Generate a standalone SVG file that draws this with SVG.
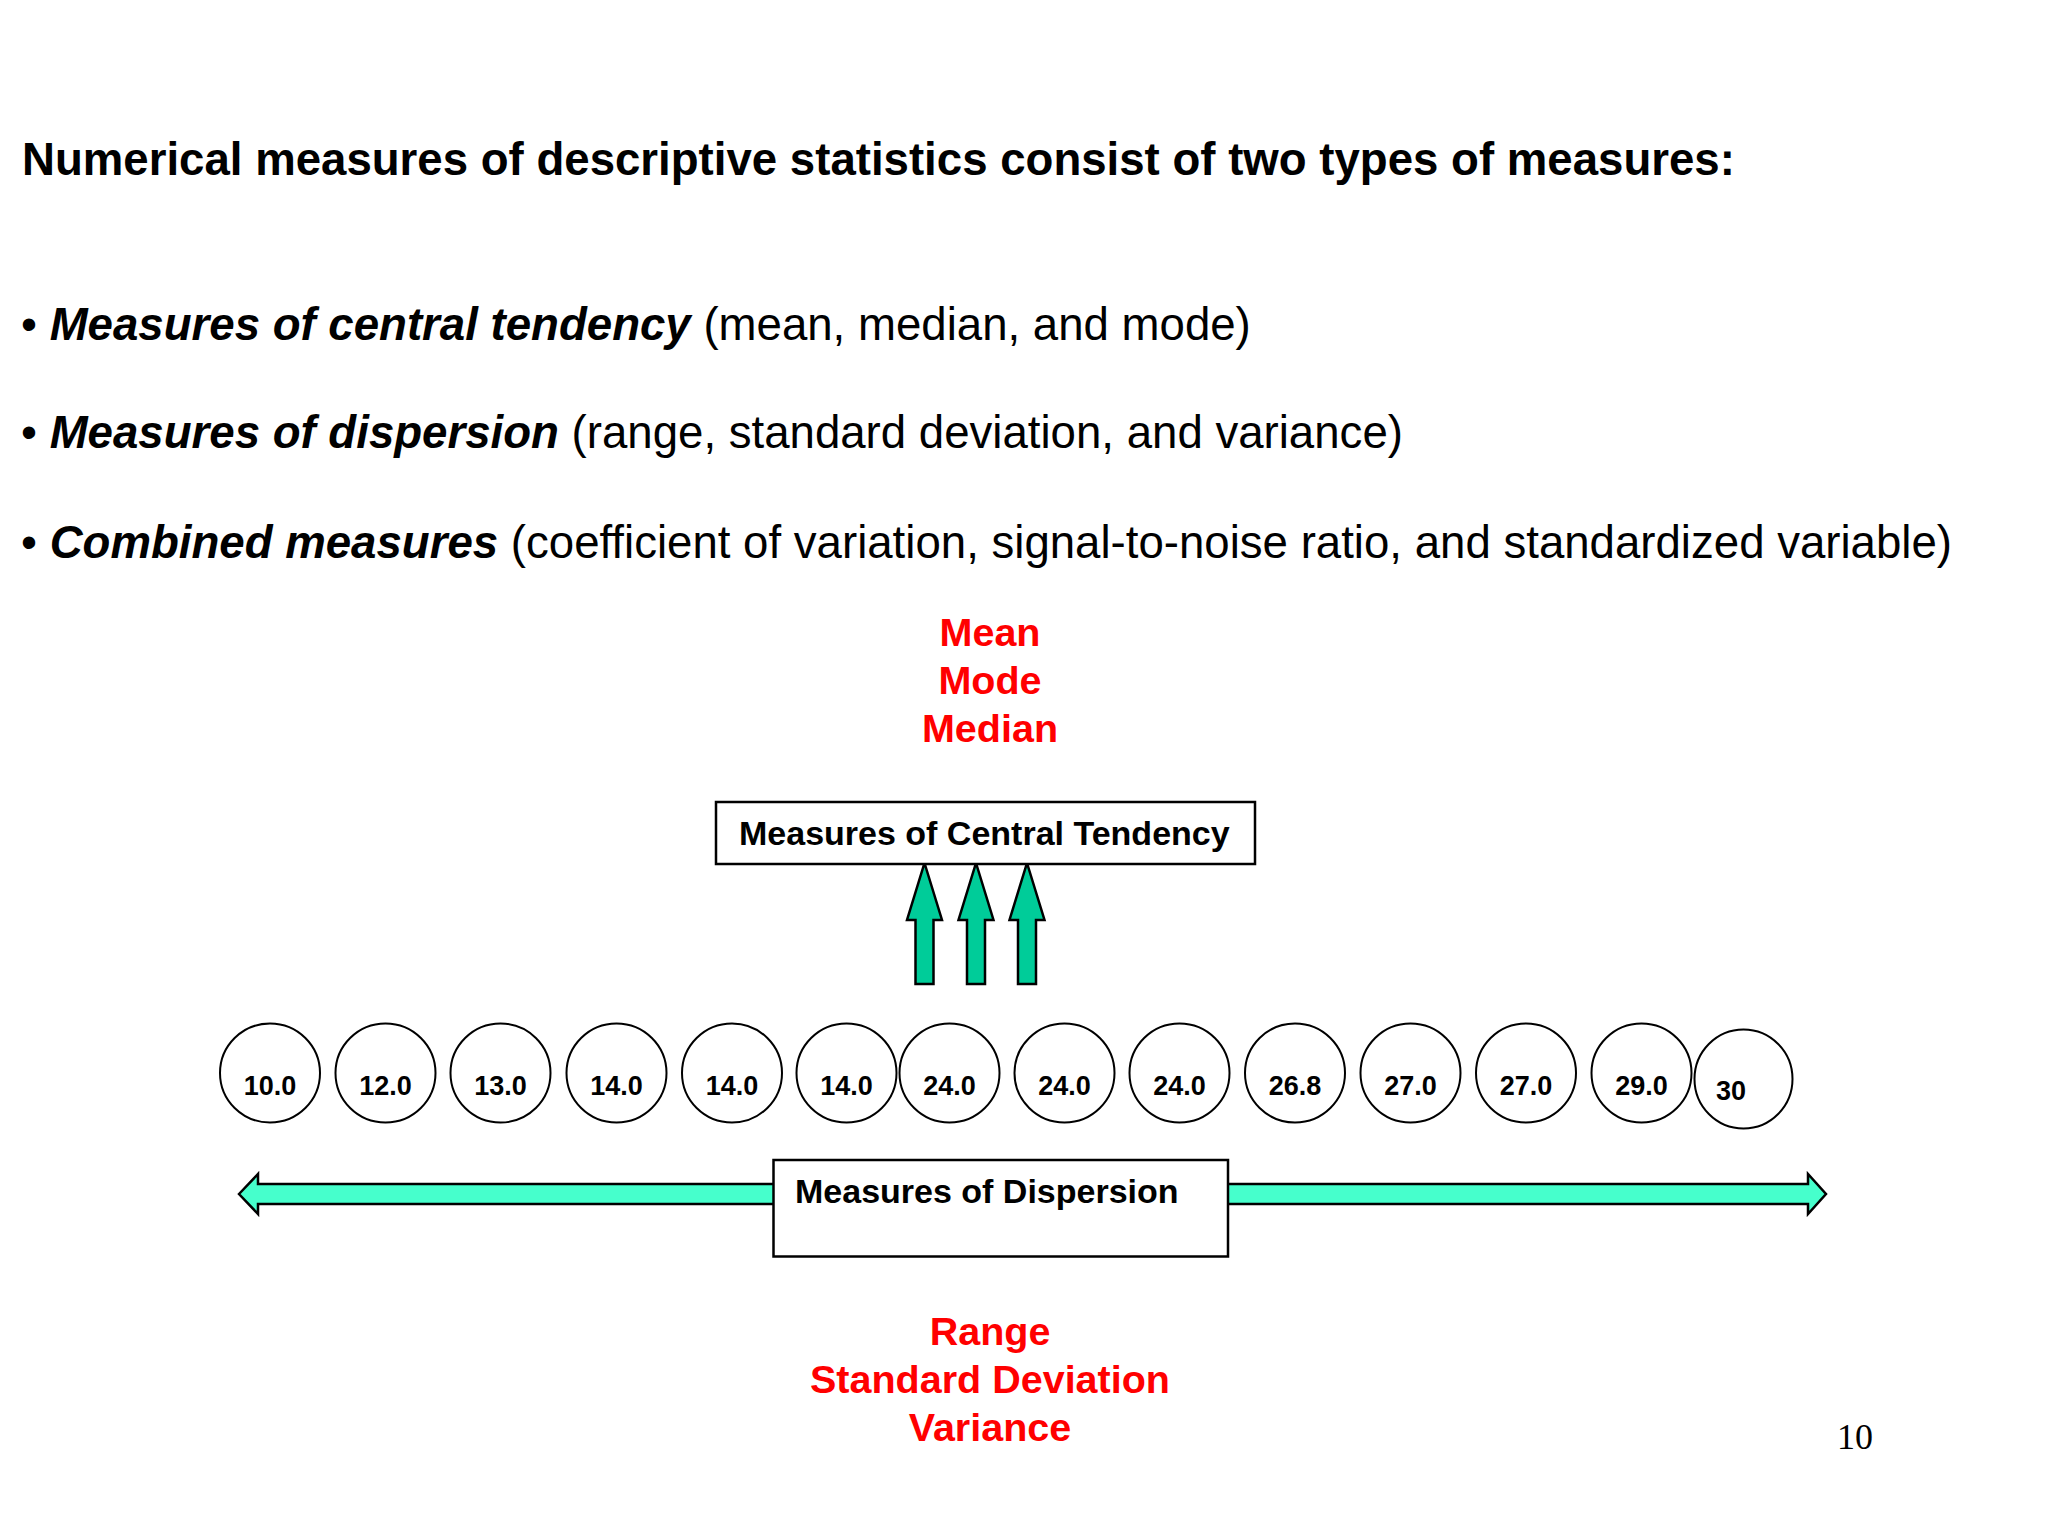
<svg xmlns="http://www.w3.org/2000/svg" width="2048" height="1536" viewBox="0 0 2048 1536">
<style>
.body{font-family:"Liberation Sans",Arial,sans-serif;font-size:45.6px;fill:#000}
.bi{font-weight:bold;font-style:italic}
.red{font-family:"Liberation Sans",Arial,sans-serif;font-size:39.5px;font-weight:bold;fill:#FF0000;text-anchor:middle}
.box{fill:#fff;stroke:#000;stroke-width:2.5}
.lbl{font-family:"Liberation Sans",Arial,sans-serif;font-size:34px;font-weight:bold;fill:#000}
.circ{fill:#fff;stroke:#000;stroke-width:2}
.num{font-family:"Liberation Sans",Arial,sans-serif;font-size:27px;font-weight:bold;fill:#000;text-anchor:middle}
.up{fill:#00CC99;stroke:#000;stroke-width:2.5;stroke-linejoin:miter}
.dbl{fill:#46FFCC;stroke:#000;stroke-width:2.5}
</style>
<rect width="2048" height="1536" fill="#fff"/>
<g id="text">
<text class="body" x="22" y="175" font-weight="bold">Numerical measures of descriptive statistics consist of two types of measures:</text>
<text class="body" x="21" y="340">• <tspan class="bi">Measures of central tendency</tspan> (mean, median, and mode)</text>
<text class="body" x="21" y="448">• <tspan class="bi">Measures of dispersion</tspan> (range, standard deviation, and variance)</text>
<text class="body" x="21" y="558">• <tspan class="bi">Combined measures</tspan> (coefficient of variation, signal-to-noise ratio, and standardized variable)</text>
</g>
<g id="central-list">
<text class="red" x="990" y="646">Mean</text>
<text class="red" x="990" y="694">Mode</text>
<text class="red" x="990" y="742">Median</text>
</g>
<g id="connectors">
<path class="dbl" d="M239,1194 L258,1174 L258,1184 L1808,1184 L1808,1174 L1826,1194 L1808,1214 L1808,1204 L258,1204 L258,1214 Z"/>
<path class="up" d="M924.5,863 L942,920 L933.5,920 L933.5,984 L915.5,984 L915.5,920 L907,920 Z"/>
<path class="up" d="M976,863 L993.5,920 L985,920 L985,984 L967,984 L967,920 L958.5,920 Z"/>
<path class="up" d="M1027,863 L1044.5,920 L1036,920 L1036,984 L1018,984 L1018,920 L1009.5,920 Z"/>
</g>
<g id="central-tendency">
<rect class="box" x="716" y="802" width="539" height="62"/>
<text class="lbl" x="739" y="845">Measures of Central Tendency</text>
</g>
<g id="values">
<g id="v1"><ellipse class="circ" cx="270" cy="1073" rx="50" ry="49.5"/><text class="num" x="270" y="1095">10.0</text></g>
<g id="v2"><ellipse class="circ" cx="385.5" cy="1073" rx="50" ry="49.5"/><text class="num" x="385.5" y="1095">12.0</text></g>
<g id="v3"><ellipse class="circ" cx="500.5" cy="1073" rx="50" ry="49.5"/><text class="num" x="500.5" y="1095">13.0</text></g>
<g id="v4"><ellipse class="circ" cx="616.5" cy="1073" rx="50" ry="49.5"/><text class="num" x="616.5" y="1095">14.0</text></g>
<g id="v5"><ellipse class="circ" cx="732" cy="1073" rx="50" ry="49.5"/><text class="num" x="732" y="1095">14.0</text></g>
<g id="v6"><ellipse class="circ" cx="846.5" cy="1073" rx="50" ry="49.5"/><text class="num" x="846.5" y="1095">14.0</text></g>
<g id="v7"><ellipse class="circ" cx="949.5" cy="1073" rx="50" ry="49.5"/><text class="num" x="949.5" y="1095">24.0</text></g>
<g id="v8"><ellipse class="circ" cx="1064.5" cy="1073" rx="50" ry="49.5"/><text class="num" x="1064.5" y="1095">24.0</text></g>
<g id="v9"><ellipse class="circ" cx="1179.5" cy="1073" rx="50" ry="49.5"/><text class="num" x="1179.5" y="1095">24.0</text></g>
<g id="v10"><ellipse class="circ" cx="1295" cy="1073" rx="50" ry="49.5"/><text class="num" x="1295" y="1095">26.8</text></g>
<g id="v11"><ellipse class="circ" cx="1410.5" cy="1073" rx="50" ry="49.5"/><text class="num" x="1410.5" y="1095">27.0</text></g>
<g id="v12"><ellipse class="circ" cx="1526" cy="1073" rx="50" ry="49.5"/><text class="num" x="1526" y="1095">27.0</text></g>
<g id="v13"><ellipse class="circ" cx="1641.5" cy="1073" rx="50" ry="49.5"/><text class="num" x="1641.5" y="1095">29.0</text></g>
<g id="v14"><ellipse class="circ" cx="1743.5" cy="1079" rx="49" ry="49.5"/><text class="num" x="1731" y="1100">30</text></g>
</g>
<g id="dispersion">
<rect class="box" x="773.5" y="1160" width="454.5" height="96.5"/>
<text class="lbl" x="795" y="1203">Measures of Dispersion</text>
</g>
<g id="dispersion-list">
<text class="red" x="990" y="1345">Range</text>
<text class="red" x="990" y="1393">Standard Deviation</text>
<text class="red" x="990" y="1441">Variance</text>
</g>
<text x="1837" y="1449" font-family="'Liberation Serif','Times New Roman',serif" font-size="36" fill="#000">10</text>
</svg>
